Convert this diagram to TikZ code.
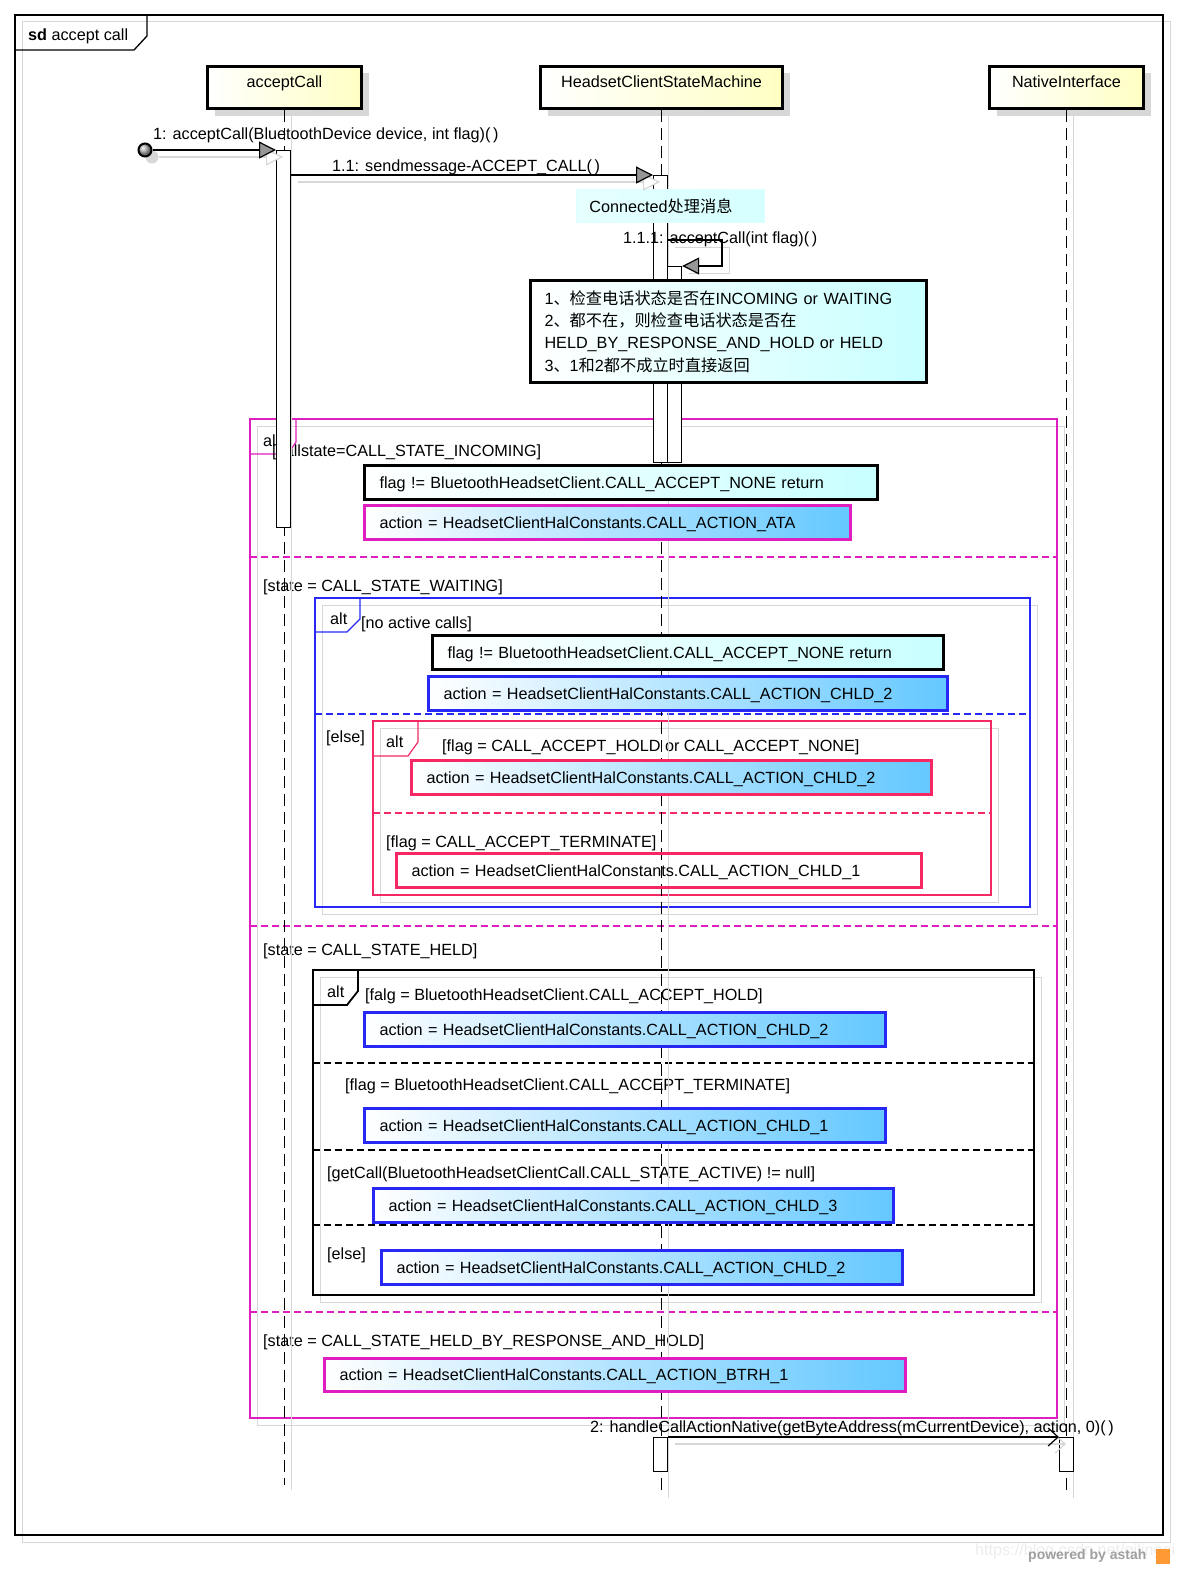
\documentclass[tikz,border=0pt]{standalone}
\usepackage{fontspec}
\setmainfont{Liberation Sans}
\newfontfamily\cjk{Noto Sans CJK SC}
\usetikzlibrary{arrows.meta}
\definecolor{headY}{RGB}{255,255,195}
\definecolor{noteC}{RGB}{200,255,255}
\definecolor{actB}{RGB}{100,200,255}
\definecolor{magC}{RGB}{222,30,190}
\definecolor{bluC}{RGB}{40,40,245}
\definecolor{redC}{RGB}{245,40,100}
\definecolor{shadowgray}{RGB}{215,215,215}
\definecolor{triG}{RGB}{150,150,150}
\newcommand{\ep}{(\kern2.5pt)}
\newcommand{\hd}[1]{\raisebox{4pt}[11.5pt][3.5pt]{#1}}
\newcommand{\bt}[1]{\raisebox{-1.5pt}[11.5pt][3.5pt]{#1}}
\begin{document}
\begin{tikzpicture}[x=1pt,y=-1pt,font=\fontsize{16.2}{19}\selectfont,
  fragshadow/.style={draw=shadowgray, line width=1pt},
  frag/.style={line width=1.2pt},
  sep/.style={line width=1.2pt, dash pattern=on 7pt off 4pt},
  life/.style={line width=1.8pt, dash pattern=on 12pt off 6pt},
  lifeshadow/.style={draw=shadowgray, line width=1pt},
  act/.style={draw=black, fill=white, line width=1.2pt, minimum width=14pt, inner sep=0pt, anchor=north west},
  head/.style={draw=black, line width=3pt, left color=white, right color=headY, inner sep=0pt, anchor=north west, minimum height=42pt,
    preaction={fill=shadowgray, draw=none, transform canvas={shift={(7pt,-7pt)}}}},
  abox/.style={draw=#1, line width=3pt, left color=white, right color=actB, anchor=north west, inner xsep=15pt, inner ysep=0pt, minimum height=34pt, align=left},
  fbox/.style={draw=black, line width=3pt, left color=white, right color=noteC, anchor=north west, inner xsep=15pt, inner ysep=0pt, minimum height=34pt, align=left},
  guard/.style={anchor=west, inner sep=0pt, yshift=-2.5pt},
  mlabel/.style={anchor=west, inner sep=0pt, yshift=-2pt},
  msg/.style={line width=1.2pt, -{Triangle[length=17pt,width=17pt,fill=triG]}},
  msgshadow/.style={draw=shadowgray, line width=1.2pt, -{Triangle[length=17pt,width=17pt,fill=white]}},
  omsg/.style={line width=1.2pt, -{Straight Barb[length=10pt,width=18pt]}},
  omsgshadow/.style={draw=shadowgray, line width=1.2pt, -{Straight Barb[length=10pt,width=18pt]}}
]
\useasboundingbox (0,0) rectangle (1179,1571);

% ---------- outer frame ----------
\draw[shadowgray, line width=1pt] (22,22) rectangle (1170,1542);
\draw[line width=1.3pt] (15,15) rectangle (1163,1535);
\draw[line width=1.3pt] (15,15) -- (147,15) -- (147,36) -- (134,50) -- (15,50);
\node[anchor=west, inner sep=0pt] (sdl) at (28,36) {\textbf{sd} accept call};

% ---------- fragments ----------
% outer alt (magenta)
\draw[fragshadow] (257,426) rectangle (1064,1425);
\draw[frag, magC] (250,419) rectangle (1057,1418);
\draw[frag, magC] (250,419) -- (296,419) -- (296,442) -- (288,454) -- (250,454);
\node[guard] (altM) at (263,438) {alt};
\node[guard] (gM1) at (272,450) {[callstate=CALL\_STATE\_INCOMING]};
\draw[sep, magC] (250,557) -- (1057,557);
\node[guard] (gM2) at (263,585) {[state = CALL\_STATE\_WAITING]};
\draw[sep, magC] (250,926) -- (1057,926);
\node[guard] (gM3) at (263,949) {[state = CALL\_STATE\_HELD]};
\draw[sep, magC] (250,1312) -- (1057,1312);
\node[guard] (gM4) at (263,1340) {[state = CALL\_STATE\_HELD\_BY\_RESPONSE\_AND\_HOLD]};

% blue alt
\draw[fragshadow] (322,605) rectangle (1037,914);
\draw[frag, bluC] (315,598) rectangle (1030,907);
\draw[frag, bluC] (315,598) -- (360,598) -- (360,619) -- (347,632) -- (315,632);
\node[guard] (altB) at (330,616) {alt};
\node[guard] (gB1) at (361,622) {[no active calls]};
\draw[sep, bluC] (315,714) -- (1030,714);
\node[guard] (gB2) at (326,736) {[else]};

% red alt
\draw[fragshadow] (380,728) rectangle (998,902);
\draw[frag, redC] (373,721) rectangle (991,895);
\draw[frag, redC] (373,721) -- (418,721) -- (418,742) -- (408,756) -- (373,756);
\node[guard] (altR) at (386,739) {alt};
\node[guard] (gR1) at (442,745) {[flag = CALL\_ACCEPT\_HOLD or CALL\_ACCEPT\_NONE]};
\draw[sep, redC] (373,813) -- (991,813);
\node[guard] (gR2) at (386,841) {[flag = CALL\_ACCEPT\_TERMINATE]};

% black alt
\draw[fragshadow] (320,977) rectangle (1041,1302);
\draw[frag] (313,970) rectangle (1034,1295);
\draw[line width=1.8pt] (313,970) -- (358,970) -- (358,991) -- (347,1005) -- (313,1005);
\node[guard] (altK) at (327,989) {alt};
\node[guard] (gK1) at (365,994) {[falg = BluetoothHeadsetClient.CALL\_ACCEPT\_HOLD]};
\draw[sep] (313,1063) -- (1034,1063);
\node[guard] (gK2) at (345,1084) {[flag = BluetoothHeadsetClient.CALL\_ACCEPT\_TERMINATE]};
\draw[sep] (313,1150) -- (1034,1150);
\node[guard] (gK3) at (327,1172) {[getCall(BluetoothHeadsetClientCall.CALL\_STATE\_ACTIVE) != null]};
\draw[sep] (313,1225) -- (1034,1225);
\node[guard] (gK4) at (327,1253) {[else]};

% ---------- lifeline heads ----------
\node[head, minimum width=154pt] (hA) at (206,65) {\hd{acceptCall}};
\node[head, minimum width=242pt] (hH) at (539,65) {\hd{HeadsetClientStateMachine}};
\node[head, minimum width=154pt] (hN) at (988,65) {\hd{NativeInterface}};

% ---------- lifelines ----------
\draw[lifeshadow] ([xshift=7pt,yshift=-3pt]hA.south) -- ([xshift=7pt]hA.south |- 0,1490);
\draw[lifeshadow] ([xshift=7pt,yshift=-3pt]hH.south) -- ([xshift=7pt]hH.south |- 0,1498);
\draw[lifeshadow] ([xshift=7pt,yshift=-3pt]hN.south) -- ([xshift=7pt]hN.south |- 0,1498);
\draw[life] (hA.south) -- (hA.south |- 0,1485);
\draw[life] (hH.south) -- (hH.south |- 0,1493);
\draw[life] (hN.south) -- (hN.south |- 0,1493);

% ---------- activations ----------
\node[act, minimum height=377pt] (actA) at (276,150) {};
\node[act, minimum height=287pt] (actH1) at (653,175) {};
\node[act, minimum height=196pt] (actH2) at (667,266) {};
\node[act, minimum height=34pt] (actH3) at (653,1437) {};
\node[act, minimum height=34pt] (actN) at (1059,1437) {};

% ---------- boxes ----------
\node[fbox, text width=483pt] (b1) at (363,464) {\bt{flag != BluetoothHeadsetClient.CALL\_ACCEPT\_NONE return}};
\node[abox=magC, text width=456pt] (b2) at (363,504) {\bt{action = HeadsetClientHalConstants.CALL\_ACTION\_ATA}};
\node[fbox, text width=481pt] (b3) at (431,634) {\bt{flag != BluetoothHeadsetClient.CALL\_ACCEPT\_NONE return}};
\node[abox=bluC, text width=489pt] (b4) at (427,675) {\bt{action = HeadsetClientHalConstants.CALL\_ACTION\_CHLD\_2}};
\node[abox=redC, text width=490pt] (b5) at (410,759) {\bt{action = HeadsetClientHalConstants.CALL\_ACTION\_CHLD\_2}};
\node[draw=redC, line width=3pt, anchor=north west, inner xsep=15pt, inner ysep=0pt, minimum height=34pt, align=left, text width=495pt] (b6) at (395,852) {\bt{action = HeadsetClientHalConstants.CALL\_ACTION\_CHLD\_1}};
\node[abox=bluC, text width=491pt] (b7) at (363,1011) {\bt{action = HeadsetClientHalConstants.CALL\_ACTION\_CHLD\_2}};
\node[abox=bluC, text width=491pt] (b8) at (363,1107) {\bt{action = HeadsetClientHalConstants.CALL\_ACTION\_CHLD\_1}};
\node[abox=bluC, text width=490pt] (b9) at (372,1187) {\bt{action = HeadsetClientHalConstants.CALL\_ACTION\_CHLD\_3}};
\node[abox=bluC, text width=491pt] (b10) at (380,1249) {\bt{action = HeadsetClientHalConstants.CALL\_ACTION\_CHLD\_2}};
\node[abox=magC, text width=551pt, minimum height=33pt] (b11) at (323,1357) {\bt{action = HeadsetClientHalConstants.CALL\_ACTION\_BTRH\_1}};

% ---------- notes ----------
\node[anchor=north west, minimum height=33pt, inner xsep=13pt, inner ysep=0pt, text width=162pt, align=left,
  left color=noteC!45, right color=noteC!75, draw=noteC!60, line width=0.6pt] (n1) at (576,189) {Connected{\cjk 处理消息}};
\node[anchor=north west, draw=black, line width=3pt, left color=white, right color=noteC, minimum height=102pt,
  text width=368pt, inner xsep=14pt, inner ysep=0pt, align=left, font=\fontsize{16.2}{22.4}\selectfont] (n2) at (529,279)
  {1{\cjk 、检查电话状态是否在}INCOMING or WAITING\\
   2{\cjk 、都不在，则检查电话状态是否在}\\
   HELD\_BY\_RESPONSE\_AND\_HOLD or HELD\\
   3{\cjk 、}1{\cjk 和}2{\cjk 都不成立时直接返回}};

% ---------- messages ----------
\coordinate (sm1) at (722,240);
\coordinate (sm2) at (722,266);
\node[circle, minimum size=13pt, inner sep=0pt, fill=shadowgray] (startS) at (152,157) {};
\begin{scope}[transform canvas={shift={(7pt,-7pt)}}]
  \draw[msgshadow] (152,150) -- (276,150);
  \draw[msgshadow] (actA.east |- actH1.north) -- (actH1.north west);
  \draw[draw=shadowgray, line width=1pt] (actH1.east |- sm1) -- (sm1) -- (sm2) -- (actH2.north east);
  \draw[omsgshadow] (actH3.north east) -- (actN.north west);
\end{scope}
\node[circle, minimum size=13pt, inner sep=0pt, draw=black, line width=2pt, ball color=gray!60] (start) at (145,150) {};
\draw[msg] (start) -- (actA.north west);
\draw[msg] (actA.east |- actH1.north) -- (actH1.north west);
\draw[msg] (actH1.east |- sm1) -- (sm1) -- (sm2) -- (actH2.north east);
\draw[omsg] (actH3.north east) -- (actN.north west);

\node[mlabel] (l1) at (153,133) {1: acceptCall(BluetoothDevice device, int flag)\ep};
\node[mlabel] (l2) at (332,165) {1.1: sendmessage-ACCEPT\_CALL\ep};
\node[mlabel] (l3) at (623,237) {1.1.1: acceptCall(int flag)\ep};
\node[mlabel] (l4) at (590,1426) {2: handleCallActionNative(getByteAddress(mCurrentDevice), action, 0)\ep};

% ---------- watermark ----------
\node[anchor=west, inner sep=0pt, text=gray!15] (wm1) at (975,1551) {https://blog.csdn.net/qilingqi};
\node[anchor=west, inner sep=0pt, text=gray!75, font=\bfseries\fontsize{14}{16}\selectfont] (wm2) at (1028,1556) {powered by astah};
\node[anchor=west, inner sep=0pt, fill=orange!80, minimum width=14pt, minimum height=15pt] (wm3) at (1156,1556) {};
\end{tikzpicture}
\end{document}
